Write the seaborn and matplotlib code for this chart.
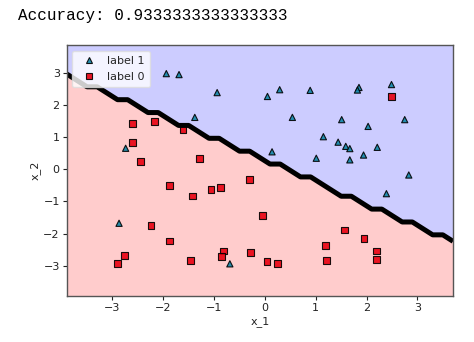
import numpy as np
import pandas as pd
import matplotlib
matplotlib.use("Agg")
import matplotlib.pyplot as plt
from matplotlib.colors import ListedColormap
import seaborn as sns

# ---- data ----
label1_x = [-1.94, -1.69, -0.94, -1.38, 0.05, -2.74, 0.29, 0.89, 1.85, 1.82,
            2.49, 0.54, 1.51, 2.75, 2.03, 1.15, 1.44, 1.59, 1.67, 2.21,
            1.94, 1.01, 1.67, 0.14, 2.83, 2.39, -0.69, -2.87]
label1_y = [2.97, 2.94, 2.38, 1.61, 2.26, 0.65, 2.47, 2.45, 2.54, 2.46,
            2.63, 1.61, 1.54, 1.54, 1.33, 1.01, 0.84, 0.71, 0.64, 0.68,
            0.44, 0.34, 0.29, 0.54, -0.18, -0.76, -2.94, -1.68]
label0_x = [-2.61, -2.18, -1.61, -2.61, -2.45, -1.29, -0.31, -1.88, -1.42, -1.06,
            -0.88, -2.24, -1.88, -2.76, -2.90, -1.47, -0.82, -0.86, -0.29, -0.04,
            0.04, 0.25, 1.57, 1.95, 1.19, 1.21, 2.20, 2.20, 2.49]
label0_y = [1.43, 1.48, 1.24, 0.82, 0.25, 0.33, -0.32, -0.51, -0.83, -0.64,
            -0.58, -1.76, -2.23, -2.68, -2.93, -2.83, -2.54, -2.72, -2.58, -1.43,
            -2.87, -2.93, -1.89, -2.15, -2.36, -2.84, -2.54, -2.80, 2.25]
labels = ["label 1", "label 0"]
accuracy_text = "Accuracy: 0.9333333333333333"

# linear classifier (decision function w1*x1 + w2*x2 + b)
w1, w2, b = 0.68, 1.0, -0.28
grid_step = 0.2

df = pd.DataFrame({
    "x_1": label1_x + label0_x,
    "x_2": label1_y + label0_y,
    "label": [labels[0]] * len(label1_x) + [labels[1]] * len(label0_x),
})

sns.set_theme(style="ticks")
plt.rcParams["font.family"] = ["DejaVu Sans"]

fig = plt.figure(figsize=(4.74, 3.42), dpi=100)
ax = fig.add_axes([0.1407, 0.1345, 0.815, 0.734])

xmin, xmax = df["x_1"].min() - 1, df["x_1"].max() + 1
ymin, ymax = df["x_2"].min() - 1, df["x_2"].max() + 1
xx, yy = np.meshgrid(np.arange(xmin, xmax, grid_step), np.arange(ymin, ymax, grid_step))
Z = (w1 * xx + w2 * yy + b > 0).astype(float)

ax.contourf(xx, yy, Z, levels=[-0.5, 0.5, 1.5], cmap=ListedColormap(["red", "blue"]), alpha=0.2)
ax.contour(xx, yy, Z, levels=[0.5], colors="black", linewidths=3.6)

sns.scatterplot(data=df, x="x_1", y="x_2", hue="label", style="label", size="label",
                hue_order=labels, style_order=labels, size_order=labels,
                palette={"label 1": "#0f86a8", "label 0": "#e8000f"},
                markers={"label 1": "^", "label 0": "s"},
                sizes={"label 1": 20, "label 0": 24},
                edgecolor="black", linewidth=0.8, alpha=0.9, ax=ax)

ax.set_xlim(xx.min(), xx.max())
ax.set_ylim(yy.min(), yy.max())
ax.set_xticks([-3, -2, -1, 0, 1, 2, 3])
ax.set_yticks([-3, -2, -1, 0, 1, 2, 3])
ax.tick_params(labelsize=8, length=3, width=0.8, colors="#222222", pad=2)
ax.set_xlabel("x_1", fontsize=8, color="#222222", labelpad=2)
ax.set_ylabel("x_2", fontsize=8, color="#222222", labelpad=2)
for sp in ax.spines.values():
    sp.set_visible(True)
    sp.set_color("#555555")
    sp.set_linewidth(1.0)

leg = ax.legend(loc="upper left", fontsize=8, frameon=True, framealpha=0.8,
                handletextpad=0.6, borderpad=0.5, markerscale=1.0)
leg.get_frame().set_edgecolor("#dddddd")

fig.text(0.038, 0.955, accuracy_text, family=["Liberation Mono", "DejaVu Sans Mono"],
         fontsize=11.5, va="center", ha="left", color="black")

fig.savefig("out.png", dpi=100, facecolor="white")
